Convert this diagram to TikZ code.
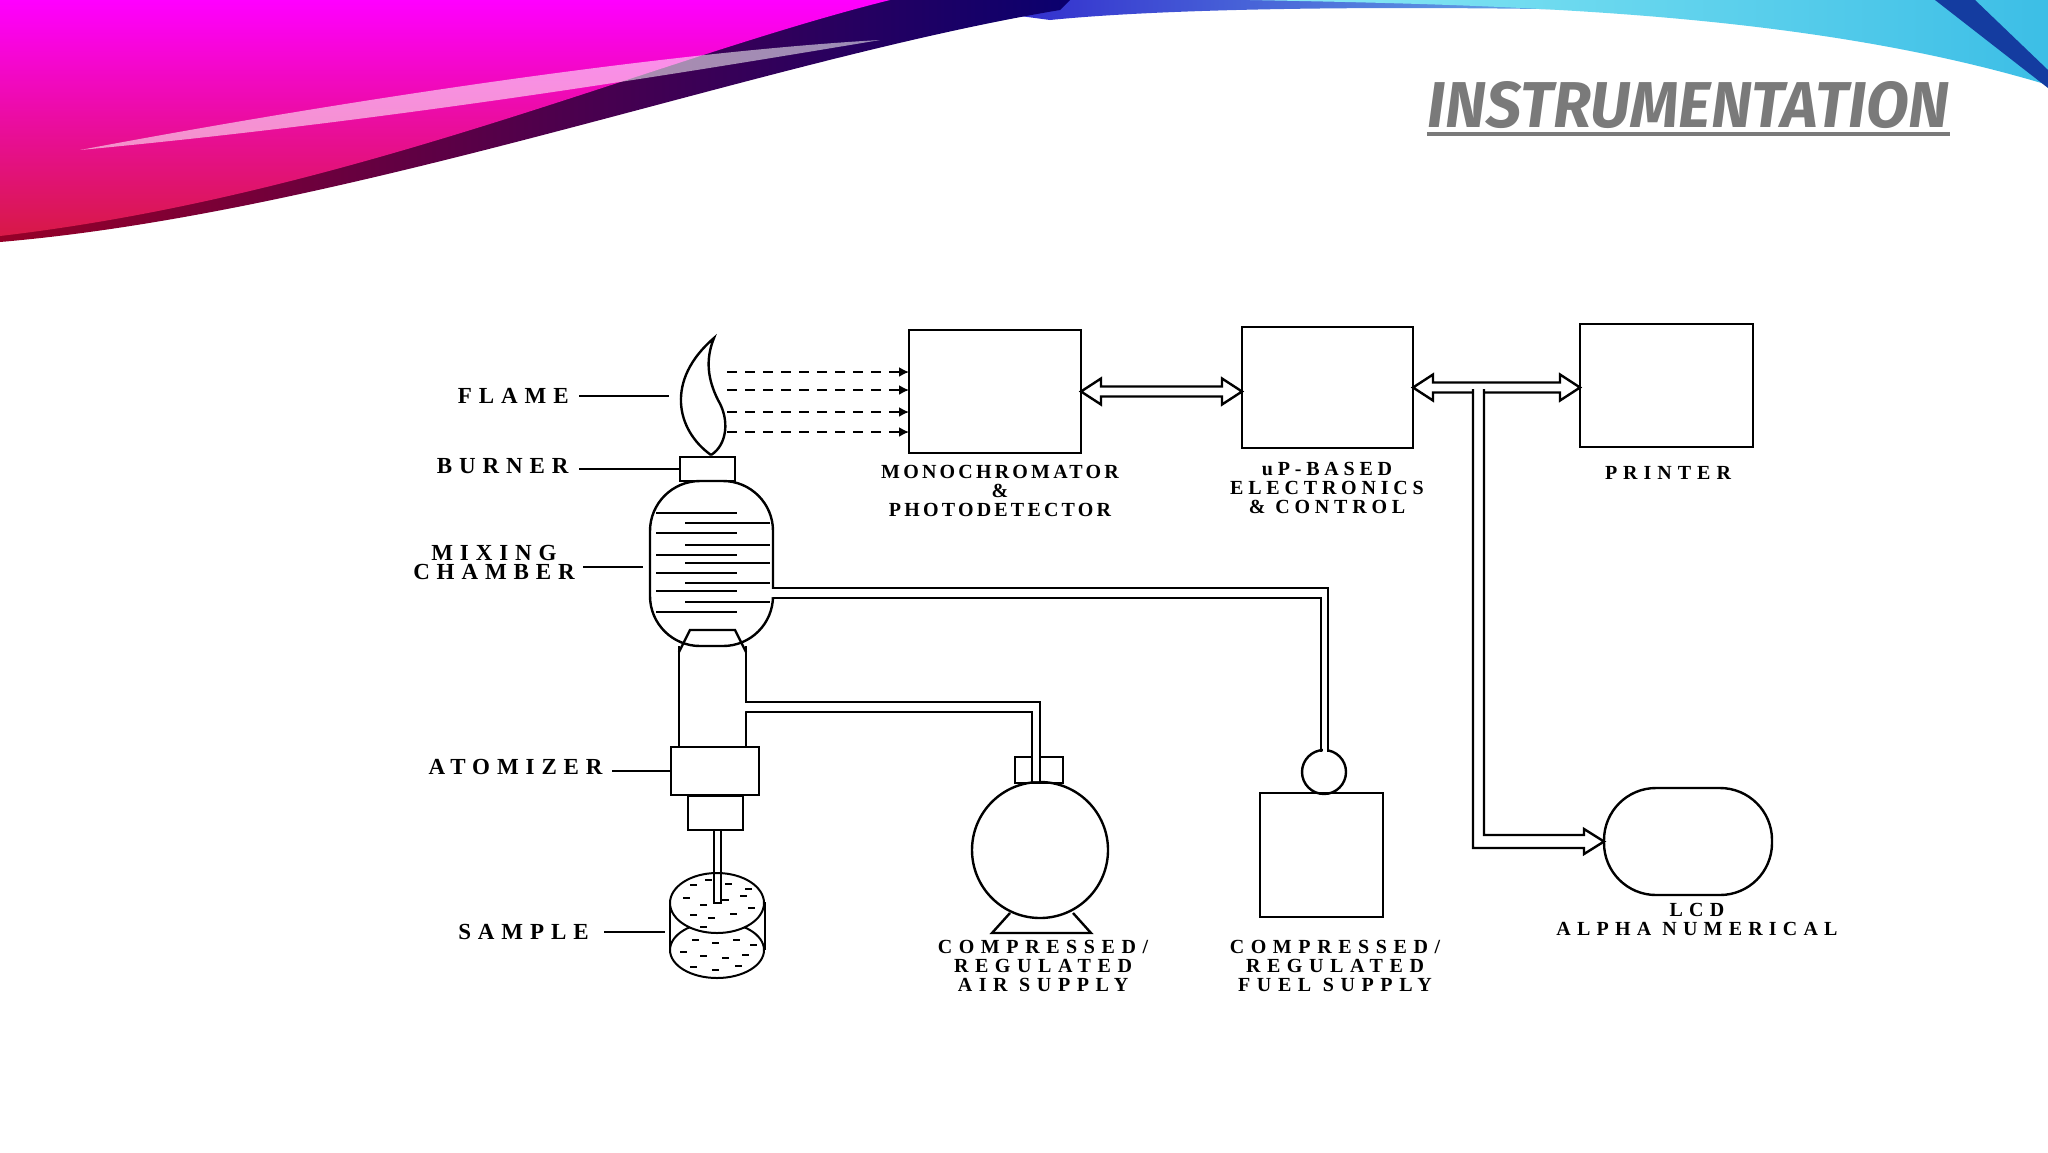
\documentclass[tikz,border=0pt]{standalone}
\usepackage{fontspec}
\setmainfont{Liberation Serif}
\newfontfamily\lblfont{Liberation Serif}
\newfontfamily\ttlfont{Fira Sans}
\usetikzlibrary{calc,arrows.meta,shapes.geometric}
\definecolor{ttl}{HTML}{7A7A7A}
\definecolor{bred}{RGB}{215,25,70}
\definecolor{bdark1}{RGB}{150,0,40}
\definecolor{bdark2}{RGB}{10,0,110}
\definecolor{bblue}{RGB}{40,20,200}
\definecolor{bcyan}{RGB}{120,220,240}
\definecolor{bcyan1}{RGB}{140,235,245}
\definecolor{bcyan2}{RGB}{60,190,230}
\definecolor{bnavy}{RGB}{20,60,160}
\newcommand\dblharrowX[2]{%
  \path[draw,fill=white,line width=1.2pt,line join=miter] let \p1=#1, \p2=#2 in
   (\x1,\y1) -- (\x1+10pt,\y1+6.5pt) -- (\x1+10pt,\y1+2.5pt) -- (\x2-10pt,\y2+2.5pt)
   -- (\x2-10pt,\y2+6.5pt) -- (\x2,\y2) -- (\x2-10pt,\y2-6.5pt) -- (\x2-10pt,\y2-2.5pt)
   -- (\x1+10pt,\y1-2.5pt) -- (\x1+10pt,\y1-6.5pt) -- cycle;}
\tikzset{
  ln/.style={line width=1.2pt},
  box/.style={draw,line width=1.2pt,inner sep=0pt,outer sep=0pt},
  lbl/.style={font=\lblfont\bfseries\fontsize{10}{9.5}\selectfont\addfontfeature{LetterSpace=#1},align=center,inner sep=0pt},
  llbl/.style={font=\lblfont\bfseries\fontsize{11.5}{9.5}\selectfont\addfontfeature{LetterSpace=30},align=center,inner sep=0pt},
}
\begin{document}
\begin{tikzpicture}[x={(0.5pt,0)},y={(0,-0.5pt)}]
\useasboundingbox (0,0) rectangle (2048,1152);
\fill[white] (0,0) rectangle (2048,1152);
% ---------- banner ----------
\shade[left color=bblue,right color=bcyan]
  (900,0) -- (1050,20) .. controls (1200,5) and (1500,5) .. (1780,15) -- (1780,0) -- cycle;
\shade[left color=bdark1,right color=bdark2]
  (0,242) .. controls (350,212) and (760,60) .. (1060,10) -- (1070,0) -- (0,0) -- cycle;
\shade[top color=magenta,bottom color=bred]
  (0,236) .. controls (350,195) and (650,60) .. (890,0) -- (0,0) -- cycle;
\fill[white,opacity=0.55] (80,150) .. controls (400,90) and (700,50) .. (880,40)
  .. controls (700,70) and (400,120) .. (80,150) -- cycle;
\shade[left color=bcyan1,right color=bcyan2]
  (1250,0) .. controls (1500,5) and (1800,10) .. (2048,85) -- (2048,0) -- cycle;
\fill[bnavy] (1935,0) -- (1975,0) -- (2048,70) -- (2048,88) -- cycle;
% ---------- title ----------
\node[anchor=base west,inner sep=0pt,text=ttl] (title) at (1427,127)
  {\resizebox{261pt}{23pt}{\ttlfont\itshape\bfseries INSTRUMENTATION}};
\draw[ttl,line width=1.6pt] (1427,134) -- (1950,134);
% ---------- boxes ----------
\node[box,minimum width=86pt,minimum height=61.5pt] (mono) at (995,391.5) {};
\node[box,minimum width=85.5pt,minimum height=60.5pt] (elec) at (1327.5,387.5) {};
\node[box,minimum width=86.5pt,minimum height=61.5pt] (prn) at (1666.5,385.5) {};
\node[box,minimum width=84pt,minimum height=53.5pt,rounded corners=26pt] (lcd) at (1688,841.5) {};
\node[box,minimum width=61.5pt,minimum height=62pt] (fuel) at (1321.5,855) {};
\node[box,circle,minimum size=22pt] (ball) at (1324,772) {};
\node[box,circle,minimum size=68pt] (comp) at (1040,850) {};
\draw[ln,line join=miter] (1010,913) -- (992,933) -- (1091,933) -- (1073,913);
\node[box,minimum width=24pt,minimum height=13pt] (neck) at (1039,770) {};
% ---------- labels ----------
\node[lbl=16] (tmono) at (1000,491) {MONOCHROMATOR\\\&\\PHOTODETECTOR};
\node[lbl=24] (telec) at (1327,488) {uP-BASED\\ELECTRONICS\\\& CONTROL};
\node[lbl=30] (tprn) at (1668,473) {PRINTER};
\node[lbl=31] (tlcd) at (1697,919) {LCD\\ALPHA NUMERICAL};
\node[lbl=33] (tair) at (1043,966) {COMPRESSED/\\REGULATED\\AIR SUPPLY};
\node[lbl=33] (tfuel) at (1335,966) {COMPRESSED/\\REGULATED\\FUEL SUPPLY};
\node[llbl,anchor=east] (tflame) at (569,396) {FLAME};
\node[llbl,anchor=east] (tburn) at (569,466) {BURNER};
\node[llbl] (tmix) at (494,562) {MIXING\\CHAMBER};
\node[llbl,anchor=east] (tatom) at (603,767) {ATOMIZER};
\node[llbl,anchor=east] (tsamp) at (589,932) {SAMPLE};
% ---------- burner assembly ----------
\draw[ln] (711,455) .. controls (676,430) and (665,380) .. (714,338)
  .. controls (705,360) and (708,380) .. (718,400) .. controls (730,420) and (727,445) .. (711,455);
\node[box,minimum width=27.5pt,minimum height=12pt] (burner) at (707.5,469) {};
\draw[ln,rounded corners=25pt] (650,481) rectangle (773,646);
\foreach \yy in {513,533,555,573,591,612} \draw[line width=0.6pt] (656,\yy) -- (737,\yy);
\foreach \yy in {523,545,563,583,602} \draw[line width=0.6pt] (685,\yy) -- (770,\yy);
\draw[ln] (679,652) -- (690,630) -- (735,630) -- (746,652);
\draw[ln] (679,646) -- (679,747); \draw[ln] (746,646) -- (746,747);
\node[box,minimum width=44pt,minimum height=24pt] (atom) at (715,771) {};
\node[box,minimum width=27.5pt,minimum height=17pt] (noz) at (715.5,813) {};
% sample
\draw[ln,fill=white] (670,950) -- (670,903) -- (765,903) -- (765,950);
\draw[line width=1pt] (717,950) ellipse[x radius=47,y radius=28];
\draw[line width=1pt,fill=white] (717,903) ellipse[x radius=47,y radius=30];
\foreach \a/\b in {690/885,705/880,725/884,745/889,683/898,700/905,722/900,740/896,690/915,708/918,730/914,748/908,700/927,
  692/940,712/943,733/940,750/945,680/952,700/956,722/958,742/955,690/967,712/970,735/966} \draw[line width=0.7pt] (\a,\b) -- ++(7,0);
\draw[line width=0.8pt] (714,830) -- (714,903) -- (721,903) -- (721,830);
% ---------- leader lines ----------
\draw[ln] (579,396) -- (669,396);
\draw[ln] (579,469) -- (burner.west);
\draw[ln] (583,567) -- (643,567);
\draw[ln] (612,771) -- (atom.west);
\draw[ln] (604,932) -- (665,932);
% ---------- dashed light ----------
\foreach \yy in {372,390,412,432}
  \draw[line width=0.9pt,dash pattern=on 5pt off 4pt,-{Latex[length=5pt,width=5pt]}] (727,\yy) -- (mono.west |- 0,\yy);
% ---------- hollow arrows ----------
\dblharrowX{(mono.east)}{(mono.east -| elec.west)}
\dblharrowX{(elec.east)}{(elec.east -| prn.west)}
\draw[line width=1.2pt,fill=white,line join=miter] (1473,389) -- (1473,848) -- (1584,848) -- (1584,854)
  -- (lcd.west) -- (1584,829) -- (1584,835) -- (1484,835) -- (1484,389);
% ---------- gas pipes ----------
\fill[white] (770,589) -- (1327,589) -- (1327,752) -- (1323,752) -- (1323,597) -- (770,597) -- cycle;
\draw[line width=1pt] (773,588) -- (1328,588) -- (1328,752);
\draw[line width=1pt] (773,598) -- (1321,598) -- (1321,752);
\fill[white] (744,703) -- (1039,703) -- (1039,781) -- (1033,781) -- (1033,711) -- (744,711) -- cycle;
\draw[line width=1pt] (746,702) -- (1040,702) -- (1040,783);
\draw[line width=1pt] (746,712) -- (1032,712) -- (1032,783);
\end{tikzpicture}
\end{document}
